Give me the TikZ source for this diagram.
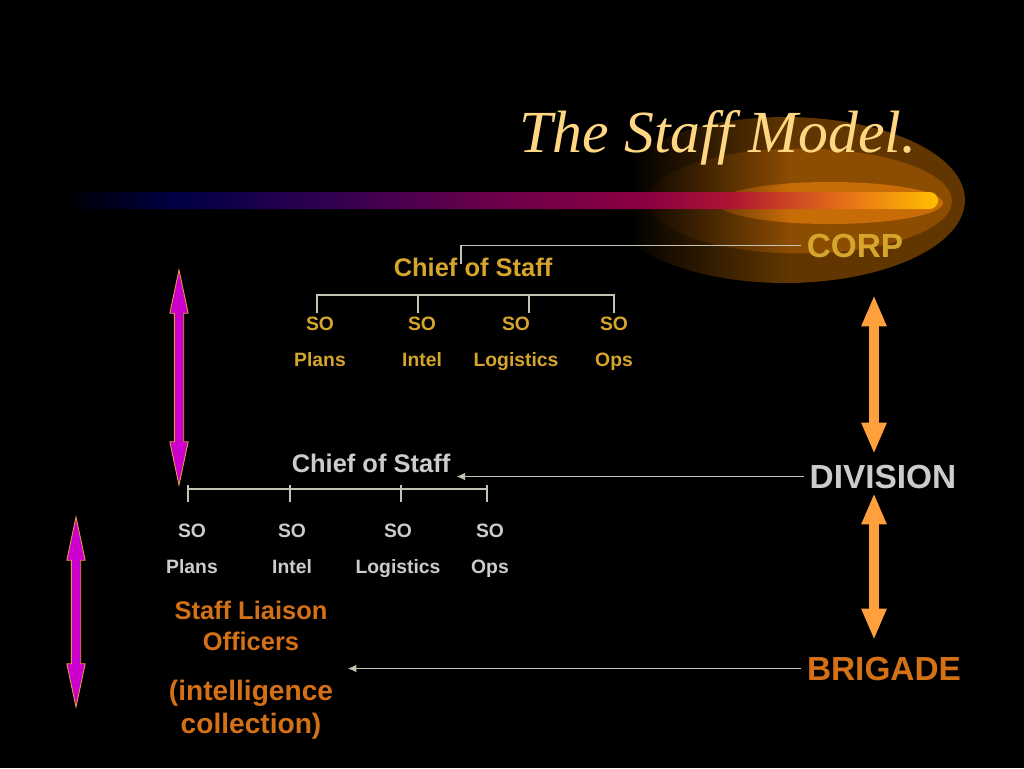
\documentclass[tikz,border=0pt]{standalone}
\usepackage{fontspec}
\setmainfont{Liberation Sans}
\newfontfamily\titlefont{Liberation Serif}
\usetikzlibrary{calc,arrows.meta,shapes.arrows}

\definecolor{gold}{RGB}{214,166,44}
\definecolor{titlegold}{RGB}{255,214,130}
\definecolor{palegrey}{RGB}{204,204,204}
\definecolor{burnt}{RGB}{212,113,22}
\definecolor{treegrey}{RGB}{196,196,180}
\definecolor{rankorange}{RGB}{255,160,60}
\definecolor{spanmagenta}{RGB}{204,0,204}
\definecolor{spanedge}{RGB}{230,150,60}
\definecolor{glowA}{RGB}{98,54,0}
\definecolor{glowB}{RGB}{140,76,2}
\definecolor{glowC}{RGB}{200,108,8}
\definecolor{barA}{RGB}{0,0,70}
\definecolor{barB}{RGB}{50,0,80}
\definecolor{barC}{RGB}{110,0,75}
\definecolor{barD}{RGB}{140,0,65}
\definecolor{barE}{RGB}{175,20,50}
\definecolor{barF}{RGB}{205,70,35}
\definecolor{barG}{RGB}{235,125,20}
\definecolor{barH}{RGB}{255,192,0}
\pgfdeclarehorizontalshading{barshading}{100bp}{color(0bp)=(black); color(25bp)=(black); color(31.8bp)=(barA); color(40.4bp)=(barB); color(50.1bp)=(barC); color(58.6bp)=(barD); color(63.2bp)=(barE); color(66.6bp)=(barF); color(70.6bp)=(barG); color(75bp)=(barH); color(100bp)=(barH)}

\begin{document}
\begin{tikzpicture}[x=0.02cm,y=-0.02cm,
    title/.style={font=\titlefont\fontsize{34}{40}\selectfont\itshape,text=titlegold,anchor=base},
    level/.style={font=\fontsize{19}{23}\selectfont\bfseries,anchor=base},
    cos/.style={font=\fontsize{14.5}{17}\selectfont\bfseries,anchor=base},
    so/.style={font=\fontsize{11}{13}\selectfont\bfseries,anchor=base},
    tree/.style={draw=treegrey,line width=0.85pt},
    link/.style={draw=treegrey,line width=0.85pt,-{Latex[length=5pt,width=4.5pt]}},
    rankarrow/.style={draw=rankorange,line width=5.6pt,{Triangle[length=17pt,width=14.7pt,line width=0pt]}-{Triangle[length=17pt,width=14.7pt,line width=0pt]}},
    span/.style={double arrow,fill=spanmagenta,draw=spanedge,line width=0.5pt,inner sep=0.085cm,minimum width=0.36cm,double arrow head extend=0.09cm,double arrow tip angle=24,shape border rotate=90}]
      \fill[black] (0,0) rectangle (1024,768);
      \begin{scope}
        \clip (785,200) ellipse [x radius=3.6cm,y radius=1.66cm];
        \shade[left color=black,right color=glowA] (628,100) rectangle (790,310);
        \fill[glowA] (789,100) rectangle (970,310);
      \end{scope}
      \begin{scope}
        \clip (800,201) ellipse [x radius=3.04cm,y radius=1.05cm];
        \shade[left color=black,right color=glowB] (628,100) rectangle (790,310);
        \fill[glowB] (789,100) rectangle (970,310);
      \end{scope}
      \begin{scope}
        \clip (830,203) ellipse [x radius=2.26cm,y radius=0.42cm];
        \shade[left color=black,right color=glowC] (628,100) rectangle (790,310);
        \fill[glowC] (789,100) rectangle (970,310);
      \end{scope}
      \shade[shading=barshading,rounded corners=0.17cm] (60,192) rectangle (938,209);

      \node[title] (title) at (718,152) {The Staff Model.};

      \node[level,text=gold] (corp) at (855,257) {CORP};
      \node[level,text=palegrey] (division) at (883,488) {DIVISION};
      \node[level,text=burnt] (brigade) at (884,680) {BRIGADE};

      \node[cos,text=gold] (cosA) at (473,276) {Chief of Staff};
      \node[so,text=gold] (soA1) at (320,330) {SO};
      \node[so,text=gold] (soA2) at (422,330) {SO};
      \node[so,text=gold] (soA3) at (516,330) {SO};
      \node[so,text=gold] (soA4) at (614,330) {SO};
      \node[so,text=gold] (plans A) at (320,366) {Plans};
      \node[so,text=gold] (intel A) at (422,366) {Intel};
      \node[so,text=gold] (logistics A) at (516,366) {Logistics};
      \node[so,text=gold] (ops A) at (614,366) {Ops};

      \node[cos,text=palegrey] (cosB) at (371,472) {Chief of Staff};
      \node[so,text=palegrey] (soB1) at (192,537) {SO};
      \node[so,text=palegrey] (soB2) at (292,537) {SO};
      \node[so,text=palegrey] (soB3) at (398,537) {SO};
      \node[so,text=palegrey] (soB4) at (490,537) {SO};
      \node[so,text=palegrey] (plans B) at (192,573) {Plans};
      \node[so,text=palegrey] (intel B) at (292,573) {Intel};
      \node[so,text=palegrey] (logistics B) at (398,573) {Logistics};
      \node[so,text=palegrey] (ops B) at (490,573) {Ops};

      \node[cos,text=burnt,align=center,font=\fontsize{14.5}{17.6}\selectfont\bfseries] (liaison) at (251,650) {Staff Liaison\\Officers};
      \node[cos,text=burnt,align=center,font=\fontsize{16}{18.7}\selectfont\bfseries] (collection) at (251,733) {(intelligence\\collection)};

      \node[span,minimum height=4.3cm] (span upper) at (179,377.5) {};
      \node[span,minimum height=3.8cm] (span lower) at (76,612) {};

      \draw[tree] (317,313) -- (317,295) -- (614,295) -- (614,313) (418,295) -- (418,313) (529,295) -- (529,313);
      \draw[tree] (188,489) -- (487,489) (188,485) -- (188,502) (290,485) -- (290,502) (401,485) -- (401,502) (487,485) -- (487,502);

      \draw[tree] (corp.west) -| ($(cosA.north)+(-12,13)$);
      \draw[link] (division.west) -- (division.west -| cosB.east);
      \draw[link,shorten >=8pt] (brigade.west) -- (brigade.west -| liaison.east);

      \draw[rankarrow] ($(corp.center)+(19,51)$) -- ($(division.center)+(-9,-24)$);
      \draw[rankarrow] ($(division.center)+(-9,18)$) -- ($(brigade.center)+(-10,-30)$);
    \end{tikzpicture}
\end{document}
